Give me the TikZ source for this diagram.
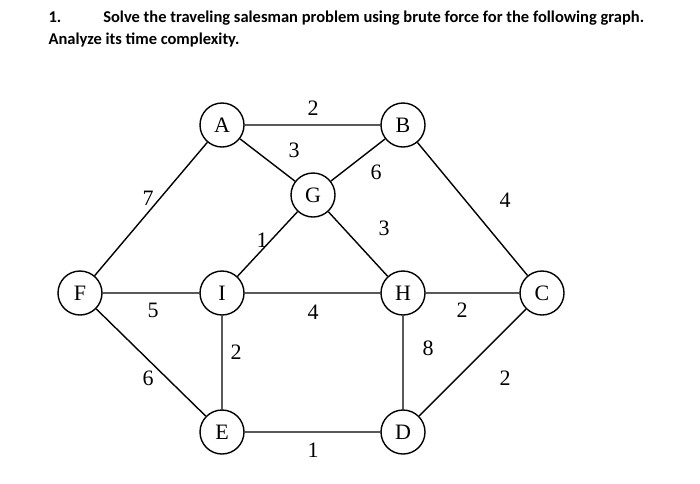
\documentclass[tikz,border=0pt]{standalone}
\usepackage{fontspec}
\setmainfont{Liberation Serif}
\newfontfamily\titlefont{Carlito}
\begin{document}
\begin{tikzpicture}[x=1pt,y=-1pt,
  vert/.style={circle,draw,line width=1.4pt,minimum size=44pt,inner sep=0pt,font=\fontsize{22}{24}\selectfont},
  edge/.style={line width=1.4pt},
  wt/.style={font=\fontsize{22}{24}\selectfont,inner sep=1pt}]
\useasboundingbox (0,0) rectangle (700,483);
\node[anchor=west,font=\titlefont\bfseries\fontsize{16.5}{18}\selectfont] (t1) at (45,18) {1.\hspace{42pt}Solve the traveling salesman problem using brute force for the following graph.};
\node[anchor=west,font=\titlefont\bfseries\fontsize{16.5}{18}\selectfont] (t2) at (45,40) {Analyze its time complexity.};
\node[vert] (A) at (222,125) {A};
\node[vert] (B) at (403,125) {B};
\node[vert] (G) at (313,195) {G};
\node[vert] (F) at (80,293) {F};
\node[vert] (I) at (222,293) {I};
\node[vert] (H) at (403,293) {H};
\node[vert] (C) at (542,293) {C};
\node[vert] (E) at (222,432) {E};
\node[vert] (D) at (403,432) {D};
\draw[edge] (A)--(B) (A)--(G) (B)--(G) (F)--(A) (B)--(C) (I)--(G) (G)--(H)
 (F)--(I) (I)--(H) (H)--(C) (H)--(D) (I)--(E) (F)--(E) (C)--(D) (E)--(D);
\node[wt] (w1) at (313,108) {2};
\node[wt] (w2) at (294,150) {3};
\node[wt] (w3) at (376,172) {6};
\node[wt] (w4) at (148,198) {7};
\node[wt] (w5) at (505,200) {4};
\node[wt] (w6) at (262,240) {1};
\node[wt] (w7) at (384,228) {3};
\node[wt] (w8) at (153,310) {5};
\node[wt] (w9) at (313,312) {4};
\node[wt] (w10) at (462,310) {2};
\node[wt] (w11) at (428,348) {8};
\node[wt] (w12) at (236,352) {2};
\node[wt] (w13) at (148,378) {6};
\node[wt] (w14) at (505,378) {2};
\node[wt] (w15) at (313,450) {1};
\end{tikzpicture}
\end{document}
